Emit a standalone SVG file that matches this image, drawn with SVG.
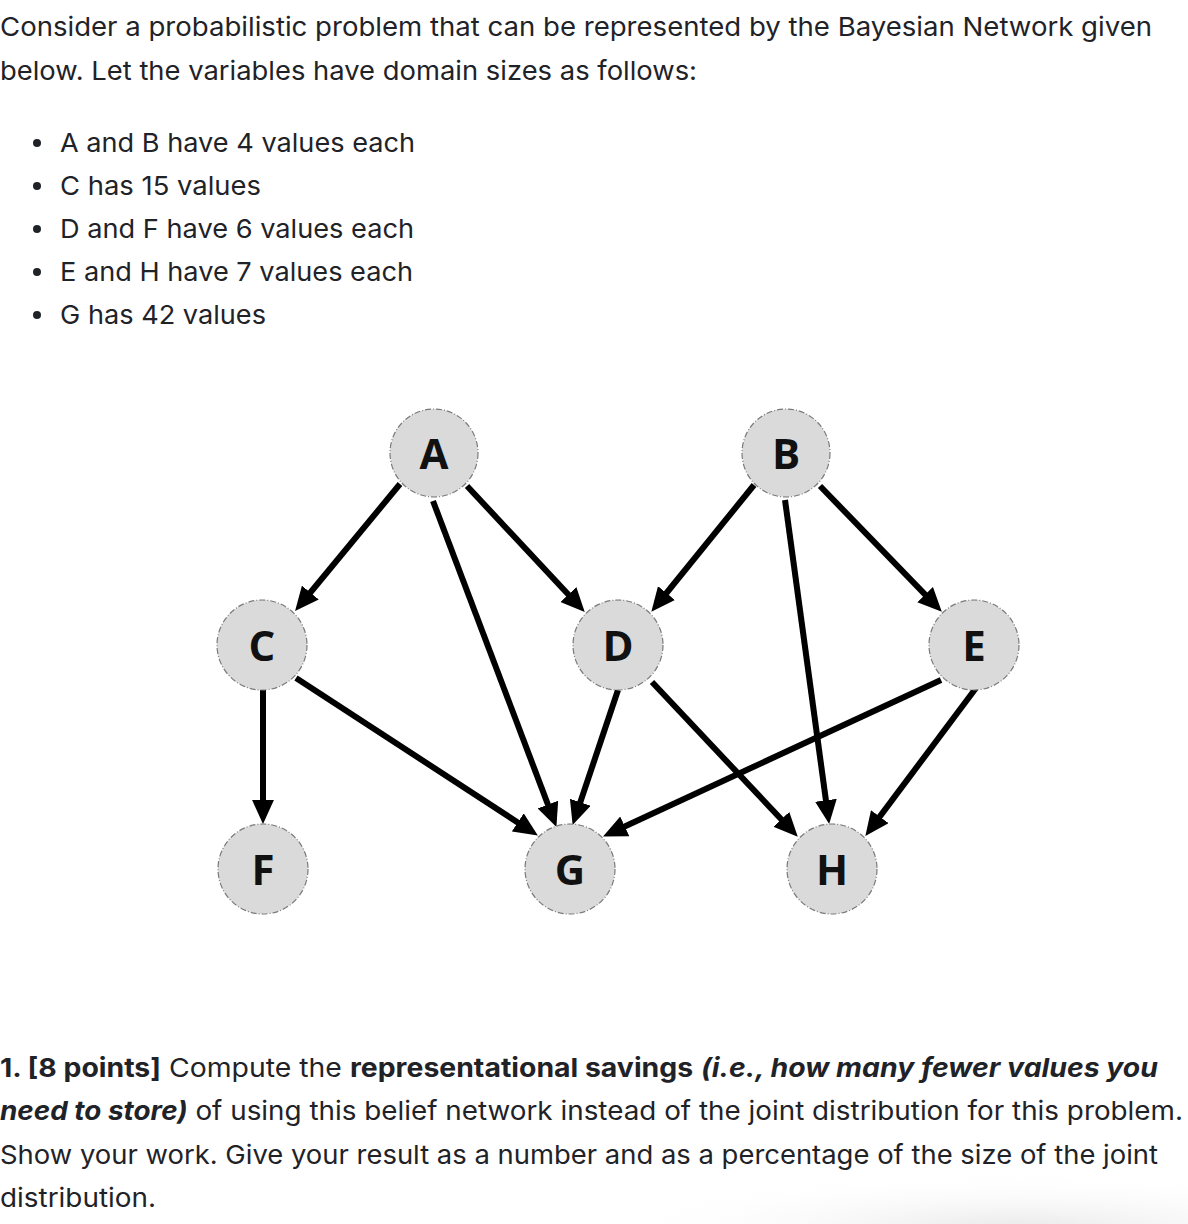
<svg xmlns="http://www.w3.org/2000/svg" width="1188" height="1224" viewBox="0 0 1188 1224">
<defs>
<style>
.t{font-family:Inter,"Liberation Sans",Arial,sans-serif;font-size:26px;fill:#1f2328}
.b{font-weight:700}
.bi{font-weight:700;font-style:italic}
.node circle{fill:#dadada;stroke:#7a7a7a;stroke-width:1.2;stroke-dasharray:6 2 1 2}
.node text{font-family:"Open Sans","DejaVu Sans",sans-serif;font-weight:700;font-size:42px;fill:#111;text-anchor:middle}
.edge{stroke:#000;stroke-width:6;fill:none;marker-end:url(#ah)}
</style>
<marker id="ah" markerUnits="userSpaceOnUse" markerWidth="24" markerHeight="22" refX="10" refY="10" orient="auto" viewBox="0 0 22 20">
<path d="M0,0 L22,10 L0,20 z" fill="#000"/>
</marker>
<radialGradient id="sh" cx="0.75" cy="1.05" r="0.6">
<stop offset="0" stop-color="#e6e6e6" stop-opacity="0.9"/>
<stop offset="1" stop-color="#ffffff" stop-opacity="0"/>
</radialGradient>
</defs>
<rect width="1188" height="1224" fill="#fff"/>
<rect x="500" y="1130" width="688" height="94" fill="url(#sh)"/>

<g id="intro">
<text class="t" x="0" y="36" textLength="1152" lengthAdjust="spacingAndGlyphs">Consider a probabilistic problem that can be represented by the Bayesian Network given</text>
<text class="t" x="0" y="80" textLength="697" lengthAdjust="spacingAndGlyphs">below. Let the variables have domain sizes as follows:</text>
</g>
<g id="bullets">
<circle cx="37" cy="143" r="4" fill="#1f2328"/>
<circle cx="37" cy="186" r="4" fill="#1f2328"/>
<circle cx="37" cy="229" r="4" fill="#1f2328"/>
<circle cx="37" cy="272" r="4" fill="#1f2328"/>
<circle cx="37" cy="315" r="4" fill="#1f2328"/>
<text class="t" x="60" y="152" textLength="355" lengthAdjust="spacingAndGlyphs">A and B have 4 values each</text>
<text class="t" x="60" y="195" textLength="201" lengthAdjust="spacingAndGlyphs">C has 15 values</text>
<text class="t" x="60" y="238" textLength="354" lengthAdjust="spacingAndGlyphs">D and F have 6 values each</text>
<text class="t" x="60" y="281" textLength="353" lengthAdjust="spacingAndGlyphs">E and H have 7 values each</text>
<text class="t" x="60" y="324" textLength="206" lengthAdjust="spacingAndGlyphs">G has 42 values</text>
</g>

<g id="connectors">
<line class="edge" x1="400" y1="484" x2="303.4" y2="601"/>
<line class="edge" x1="467" y1="486" x2="575.8" y2="602.5"/>
<line class="edge" x1="433" y1="501" x2="551.8" y2="814.8"/>
<line class="edge" x1="754" y1="485" x2="659.6" y2="601.5"/>
<line class="edge" x1="820" y1="486" x2="932.7" y2="602.4"/>
<line class="edge" x1="785" y1="500" x2="827.4" y2="811.1"/>
<line class="edge" x1="263" y1="690" x2="263" y2="811"/>
<line class="edge" x1="296" y1="678" x2="526.9" y2="828.4"/>
<line class="edge" x1="618" y1="690" x2="576.8" y2="812.6"/>
<line class="edge" x1="652" y1="682" x2="788.8" y2="827.3"/>
<line class="edge" x1="941" y1="680" x2="614.9" y2="831"/>
<line class="edge" x1="976" y1="688" x2="873.2" y2="825.4"/>
</g>

<g id="node-A" class="node"><circle cx="434" cy="453" r="44"/><text x="434" y="469">A</text></g>
<g id="node-B" class="node"><circle cx="786" cy="453" r="44"/><text x="786" y="469">B</text></g>
<g id="node-C" class="node"><circle cx="262" cy="645" r="45"/><text x="262" y="661">C</text></g>
<g id="node-D" class="node"><circle cx="618" cy="645" r="45"/><text x="618" y="661">D</text></g>
<g id="node-E" class="node"><circle cx="974" cy="645" r="45"/><text x="974" y="661">E</text></g>
<g id="node-F" class="node"><circle cx="263" cy="869" r="45"/><text x="263" y="885">F</text></g>
<g id="node-G" class="node"><circle cx="570" cy="869" r="45"/><text x="570" y="885">G</text></g>
<g id="node-H" class="node"><circle cx="832" cy="869" r="45"/><text x="832" y="885">H</text></g>

<g id="question">
<text class="t" x="0" y="1077" textLength="1158" lengthAdjust="spacingAndGlyphs"><tspan class="b">1. [8 points]</tspan> Compute the <tspan class="b">representational savings</tspan> <tspan class="bi">(i.e., how many fewer values you</tspan></text>
<text class="t" x="0" y="1120" textLength="1183" lengthAdjust="spacingAndGlyphs"><tspan class="bi">need to store)</tspan> of using this belief network instead of the joint distribution for this problem.</text>
<text class="t" x="0" y="1164" textLength="1158" lengthAdjust="spacingAndGlyphs">Show your work. Give your result as a number and as a percentage of the size of the joint</text>
<text class="t" x="0" y="1207" textLength="156" lengthAdjust="spacingAndGlyphs">distribution.</text>
</g>
</svg>
